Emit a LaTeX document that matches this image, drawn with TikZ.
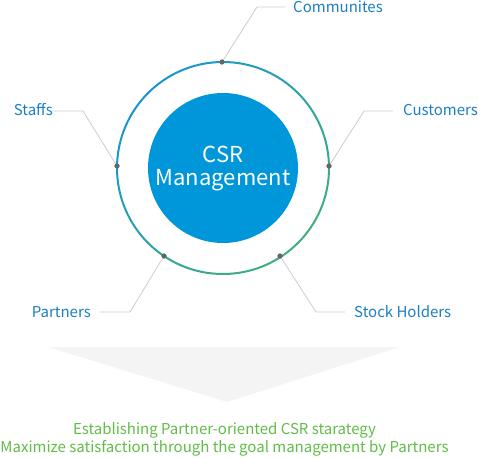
\documentclass[tikz,border=0pt]{standalone}
\usepackage{fontspec}
\setmainfont{Noto Sans CJK KR}
\definecolor{lblblue}{HTML}{1A7FC4}
\definecolor{coreblue}{HTML}{0096DA}
\definecolor{ringblue}{HTML}{1895D0}
\definecolor{ringgreen}{HTML}{3FB07C}
\definecolor{leadgray}{HTML}{CCCCCC}
\definecolor{dotgray}{HTML}{666666}
\definecolor{tri}{HTML}{F4F4F4}
\definecolor{txtgreen}{HTML}{62BC48}
\tikzset{
  lbl/.style={inner sep=0pt, text=lblblue, font=\fontsize{15}{18}\selectfont},
  leader/.style={draw=leadgray, line width=0.8pt},
  dotnode/.style={circle, fill=dotgray, inner sep=0pt, minimum size=5pt},
  goal/.style={inner sep=0pt, text=txtgreen, font=\fontsize{15}{18}\selectfont}
}
\begin{document}
\begin{tikzpicture}[x=1pt,y=-1pt]
\useasboundingbox (0,0) rectangle (478,457);
% ring
\path[even odd rule, top color=ringblue, bottom color=ringgreen, shading angle=45]
  (223,168) circle (107pt) (223,168) circle (105pt);
% core
\node[circle, fill=coreblue, minimum size=150pt, inner sep=0pt] (core) at (223,168) {};
\node[inner sep=0pt, text=white, font=\fontsize{22}{24}\selectfont, anchor=base] (csr) at (223,162) {CSR};
\node[inner sep=0pt, text=white, font=\fontsize{22}{24}\selectfont, anchor=base] (mgmt) at (223,185) {Management};
% dots
\node[dotnode] (dT) at (222,62) {};
\node[dotnode] (dL) at (117,166) {};
\node[dotnode] (dR) at (329,166) {};
\node[dotnode] (dBL) at (164,256) {};
\node[dotnode] (dBR) at (280,256) {};
% labels
\node[lbl, anchor=base west] (lC) at (293,13) {Communites};
\node[lbl, anchor=base east] (lS) at (53,116) {Staffs};
\node[lbl, anchor=base west] (lCu) at (403,116) {Customers};
\node[lbl, anchor=base east] (lP) at (91,317) {Partners};
\node[lbl, anchor=base west] (lSH) at (354,317) {Stock Holders};
% elbows
\coordinate (eT) at (257,7);   \coordinate (eT2) at (285,7);
\coordinate (eL) at (83,111);  \coordinate (eL2) at (53,111);
\coordinate (eR) at (364,111); \coordinate (eR2) at (393,111);
\coordinate (eBL) at (130,312); \coordinate (eBL2) at (100,312);
\coordinate (eBR) at (316,312); \coordinate (eBR2) at (345,312);
\draw[leader] (dT.center) -- (eT) -- (eT2);
\draw[leader] (dL.center) -- (eL) -- (eL2);
\draw[leader] (dR.center) -- (eR) -- (eR2);
\draw[leader] (dBL.center) -- (eBL) -- (eBL2);
\draw[leader] (dBR.center) -- (eBR) -- (eBR2);
\foreach \d in {dT,dL,dR,dBL,dBR} \node[dotnode] at (\d) {};
% triangle
\fill[tri] (48,347) -- (400,347) -- (227,402) -- cycle;
% goal text
\node[goal, anchor=base] (g1) at (224.5,434) {Establishing Partner-oriented CSR starategy};
\node[goal, anchor=base] (g2) at (224.5,452) {Maximize satisfaction through the goal management by Partners};
\end{tikzpicture}
\end{document}
